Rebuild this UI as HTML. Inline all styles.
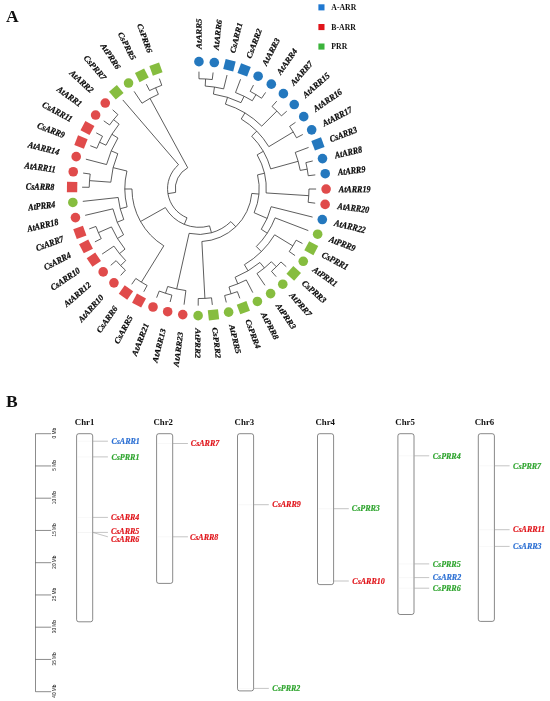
<!DOCTYPE html>
<html><head><meta charset="utf-8"><title>Figure</title>
<style>html,body{margin:0;padding:0;background:#fff}svg{display:block}</style></head>
<body><svg width="550" height="701" viewBox="0 0 550 701">
<rect width="550" height="701" fill="#fff"/>
<path d="M175.60 192.41A23.80 23.80 0 0 1 187.73 167.74M175.60 192.41L167.94 193.63M187.01 217.80A31.56 31.56 0 0 1 178.52 164.72M187.01 217.80L184.28 224.38M209.54 225.89A38.68 38.68 0 0 1 165.36 207.57M209.54 225.89L211.46 232.75M230.87 221.64A45.80 45.80 0 0 1 189.11 233.35M230.87 221.64L235.81 226.77M251.80 193.43A52.92 52.92 0 0 1 201.89 241.50M251.80 193.43L258.89 194.07M257.54 174.88A60.04 60.04 0 0 1 254.11 212.71M257.54 174.88L264.47 173.24M257.15 154.88A67.16 67.16 0 0 1 266.12 192.94M257.15 154.88L263.31 151.30M251.68 136.18A74.28 74.28 0 0 1 270.70 168.88M251.68 136.18L256.72 131.15M241.24 119.00A81.40 81.40 0 0 1 268.83 146.66M241.24 119.00L244.92 112.91M225.41 104.13A88.52 88.52 0 0 1 261.76 126.12M225.41 104.13L227.52 97.33M213.42 94.09A95.64 95.64 0 0 1 240.98 102.66M213.42 94.09L214.48 87.05M205.20 86.07A102.76 102.76 0 0 1 223.64 88.86M205.20 86.07L205.62 78.96M198.97 78.77A109.88 109.88 0 0 1 212.25 79.56M198.97 78.77L198.96 71.65M212.25 79.56L213.10 72.49M223.64 88.86L227.04 75.04M240.98 102.66L244.09 96.26M235.52 92.56A102.76 102.76 0 0 1 252.29 100.73M235.52 92.56L240.57 79.25M252.29 100.73L255.98 94.64M250.18 91.36A109.88 109.88 0 0 1 261.57 98.25M250.18 91.36L253.49 85.06M261.57 98.25L265.61 92.40M261.76 126.12L276.88 111.03M272.04 106.47A109.88 109.88 0 0 1 281.43 115.89M272.04 106.47L276.76 101.14M281.43 115.89L286.77 111.17M268.83 146.66L293.23 131.97M289.63 126.37A109.88 109.88 0 0 1 296.49 137.77M289.63 126.37L295.49 122.34M296.49 137.77L302.80 134.48M270.70 168.88L298.15 161.30M295.26 152.43A102.76 102.76 0 0 1 300.23 170.41M295.26 152.43L308.59 147.41M300.23 170.41L307.23 169.14M305.86 162.63A109.88 109.88 0 0 1 308.22 175.73M305.86 162.63L312.77 160.95M308.22 175.73L315.29 174.89M266.12 192.94L308.76 195.67M308.98 189.01A109.88 109.88 0 0 1 308.13 202.29M308.98 189.01L316.10 189.04M308.13 202.29L315.19 203.18M254.11 212.71L267.16 218.41M271.15 206.71A74.28 74.28 0 0 1 261.28 229.29M271.15 206.71L312.59 217.10M261.28 229.29L267.24 233.18M275.08 217.85A81.40 81.40 0 0 1 256.34 246.53M275.08 217.85L308.32 230.61M256.34 246.53L261.34 251.59M274.63 234.81A88.52 88.52 0 0 1 244.42 264.69M274.63 234.81L292.86 245.95M296.15 240.17A109.88 109.88 0 0 1 289.21 251.52M296.15 240.17L302.44 243.51M289.21 251.52L295.05 255.60M244.42 264.69L248.07 270.80M259.90 262.48A95.64 95.64 0 0 1 235.11 277.25M259.90 262.48L264.43 267.97M271.36 261.72A102.76 102.76 0 0 1 256.96 273.57M271.36 261.72L276.36 266.78M280.95 261.96A109.88 109.88 0 0 1 271.49 271.31M280.95 261.96L286.26 266.71M271.49 271.31L276.18 276.67M256.96 273.57L264.98 285.34M235.11 277.25L237.79 283.85M246.27 279.94A102.76 102.76 0 0 1 228.99 286.97M246.27 279.94L252.81 292.60M228.99 286.97L231.06 293.78M237.37 291.65A109.88 109.88 0 0 1 224.64 295.52M237.37 291.65L239.85 298.33M224.64 295.52L226.29 302.45M201.89 241.50L204.90 298.38M211.53 297.82A109.88 109.88 0 0 1 198.24 298.53M211.53 297.82L212.33 304.90M198.24 298.53L198.19 305.65M189.11 233.35L176.69 288.94M185.88 290.56A102.76 102.76 0 0 1 167.68 286.49M185.88 290.56L184.05 304.68M167.68 286.49L165.50 293.27M171.90 295.11A109.88 109.88 0 0 1 159.23 291.04M171.90 295.11L170.13 302.01M159.23 291.04L156.64 297.67M165.36 207.57L140.53 221.51M163.82 245.80A67.16 67.16 0 0 1 131.94 188.97M163.82 245.80L141.38 282.15M147.14 285.47A109.88 109.88 0 0 1 135.82 278.48M147.14 285.47L143.78 291.74M135.82 278.48L131.72 284.30M131.94 188.97L124.82 189.00M127.11 206.95A74.28 74.28 0 0 1 126.94 171.03M127.11 206.95L120.21 208.71M123.78 219.53A81.40 81.40 0 0 1 118.18 197.49M123.78 219.53L117.20 222.23M123.55 234.78A88.52 88.52 0 0 1 112.91 208.83M123.55 234.78L117.47 238.49M125.00 249.12A95.64 95.64 0 0 1 111.45 226.93M125.00 249.12L119.48 253.62M125.71 260.58A102.76 102.76 0 0 1 113.92 246.12M125.71 260.58L120.62 265.56M125.42 270.17A109.88 109.88 0 0 1 116.11 260.67M125.42 270.17L120.65 275.45M116.11 260.67L110.73 265.33M113.92 246.12L102.11 254.09M111.45 226.93L98.41 232.63M101.25 238.65A109.88 109.88 0 0 1 95.93 226.45M101.25 238.65L94.91 241.89M95.93 226.45L89.24 228.90M112.91 208.83L85.18 215.33M118.18 197.49L82.79 201.36M126.94 171.03L113.11 167.65M110.82 182.20A88.52 88.52 0 0 1 117.78 153.68M110.82 182.20L89.51 180.64M89.23 187.29A109.88 109.88 0 0 1 90.20 174.02M89.23 187.29L82.11 187.21M90.20 174.02L83.14 173.07M117.78 153.68L111.24 150.86M106.55 164.55A95.64 95.64 0 0 1 117.95 138.04M106.55 164.55L85.87 159.17M117.95 138.04L111.91 134.27M105.97 145.21A102.76 102.76 0 0 1 119.12 124.13M105.97 145.21L99.52 142.20M96.89 148.31A109.88 109.88 0 0 1 102.52 136.26M96.89 148.31L90.27 145.70M102.52 136.26L96.26 132.86M119.12 124.13L113.58 119.66M109.56 124.96A109.88 109.88 0 0 1 117.91 114.61M109.56 124.96L103.76 120.84M117.91 114.61L112.65 109.81M178.52 164.72L122.82 99.94M187.73 167.74L150.00 98.38M142.01 103.21A102.76 102.76 0 0 1 158.40 94.29M142.01 103.21L134.10 91.37M158.40 94.29L155.58 87.76M149.55 90.58A109.88 109.88 0 0 1 161.77 85.31M149.55 90.58L146.34 84.22M161.77 85.31L159.35 78.61" fill="none" stroke="#2e2e2e" stroke-width="0.78"/>
<g><circle cx="198.94" cy="61.65" r="4.8" fill="#2478BE"/><circle cx="214.30" cy="62.56" r="4.8" fill="#2478BE"/><rect x="-5.15" y="-5.15" width="10.3" height="10.3" fill="#2478BE" transform="translate(229.43 65.32) rotate(13.82)"/><rect x="-5.15" y="-5.15" width="10.3" height="10.3" fill="#2478BE" transform="translate(244.11 69.89) rotate(20.76)"/><circle cx="258.14" cy="76.21" r="4.8" fill="#2478BE"/><circle cx="271.30" cy="84.17" r="4.8" fill="#2478BE"/><circle cx="283.40" cy="93.66" r="4.8" fill="#2478BE"/><circle cx="294.26" cy="104.55" r="4.8" fill="#2478BE"/><circle cx="303.73" cy="116.67" r="4.8" fill="#2478BE"/><circle cx="311.67" cy="129.84" r="4.8" fill="#2478BE"/><rect x="-5.15" y="-5.15" width="10.3" height="10.3" fill="#2478BE" transform="translate(317.95 143.88) rotate(69.36)"/><circle cx="322.49" cy="158.58" r="4.8" fill="#2478BE"/><circle cx="325.22" cy="173.71" r="4.8" fill="#2478BE"/><circle cx="326.10" cy="189.07" r="4.8" fill="#E04B4B"/><circle cx="325.12" cy="204.42" r="4.8" fill="#E04B4B"/><circle cx="322.29" cy="219.54" r="4.8" fill="#2478BE"/><circle cx="317.65" cy="234.20" r="4.8" fill="#86BD3F"/><rect x="-5.15" y="-5.15" width="10.3" height="10.3" fill="#86BD3F" transform="translate(311.27 248.20) rotate(117.96)"/><circle cx="303.25" cy="261.32" r="4.8" fill="#86BD3F"/><rect x="-5.15" y="-5.15" width="10.3" height="10.3" fill="#86BD3F" transform="translate(293.71 273.38) rotate(131.85)"/><circle cx="282.77" cy="284.19" r="4.8" fill="#86BD3F"/><circle cx="270.61" cy="293.61" r="4.8" fill="#86BD3F"/><circle cx="257.40" cy="301.48" r="4.8" fill="#86BD3F"/><rect x="-5.15" y="-5.15" width="10.3" height="10.3" fill="#86BD3F" transform="translate(243.33 307.70) rotate(159.62)"/><circle cx="228.61" cy="312.17" r="4.8" fill="#86BD3F"/><rect x="-5.15" y="-5.15" width="10.3" height="10.3" fill="#86BD3F" transform="translate(213.47 314.83) rotate(173.50)"/><circle cx="198.11" cy="315.65" r="4.8" fill="#86BD3F"/><circle cx="182.76" cy="314.59" r="4.8" fill="#E04B4B"/><circle cx="167.66" cy="311.70" r="4.8" fill="#E04B4B"/><circle cx="153.01" cy="306.99" r="4.8" fill="#E04B4B"/><rect x="-5.15" y="-5.15" width="10.3" height="10.3" fill="#E04B4B" transform="translate(139.05 300.55) rotate(208.22)"/><rect x="-5.15" y="-5.15" width="10.3" height="10.3" fill="#E04B4B" transform="translate(125.96 292.47) rotate(215.16)"/><circle cx="113.95" cy="282.87" r="4.8" fill="#E04B4B"/><circle cx="103.18" cy="271.89" r="4.8" fill="#E04B4B"/><rect x="-5.15" y="-5.15" width="10.3" height="10.3" fill="#E04B4B" transform="translate(93.82 259.68) rotate(235.99)"/><rect x="-5.15" y="-5.15" width="10.3" height="10.3" fill="#E04B4B" transform="translate(86.01 246.44) rotate(242.94)"/><rect x="-5.15" y="-5.15" width="10.3" height="10.3" fill="#E04B4B" transform="translate(79.85 232.34) rotate(249.88)"/><circle cx="75.44" cy="217.61" r="4.8" fill="#E04B4B"/><circle cx="72.85" cy="202.45" r="4.8" fill="#86BD3F"/><rect x="-5.15" y="-5.15" width="10.3" height="10.3" fill="#E04B4B" transform="translate(72.11 187.08) rotate(270.71)"/><circle cx="73.23" cy="171.74" r="4.8" fill="#E04B4B"/><circle cx="76.20" cy="156.65" r="4.8" fill="#E04B4B"/><rect x="-5.15" y="-5.15" width="10.3" height="10.3" fill="#E04B4B" transform="translate(80.97 142.03) rotate(291.54)"/><rect x="-5.15" y="-5.15" width="10.3" height="10.3" fill="#E04B4B" transform="translate(87.47 128.09) rotate(298.48)"/><circle cx="95.61" cy="115.04" r="4.8" fill="#E04B4B"/><circle cx="105.26" cy="103.07" r="4.8" fill="#E04B4B"/><rect x="-5.15" y="-5.15" width="10.3" height="10.3" fill="#86BD3F" transform="translate(116.30 92.36) rotate(319.31)"/><circle cx="128.54" cy="83.05" r="4.8" fill="#86BD3F"/><rect x="-5.15" y="-5.15" width="10.3" height="10.3" fill="#86BD3F" transform="translate(141.83 75.30) rotate(333.19)"/><rect x="-5.15" y="-5.15" width="10.3" height="10.3" fill="#86BD3F" transform="translate(155.95 69.21) rotate(340.14)"/></g>
<g font-family="'Liberation Serif',serif" font-weight="bold" font-style="italic" font-size="8.5" fill="#0a0a0a" stroke="#0a0a0a" stroke-width="0.22"><text transform="translate(198.93 48.95) rotate(-90.07) scale(1.040 0.920)" dy="0.33em">AtARR5</text><text transform="translate(215.82 49.95) rotate(-83.13) scale(1.039 0.923)" dy="0.33em">AtARR6</text><text transform="translate(232.46 52.99) rotate(-76.18) scale(1.035 0.931)" dy="0.33em">CsARR1</text><text transform="translate(248.61 58.02) rotate(-69.24) scale(1.028 0.944)" dy="0.33em">CsARR2</text><text transform="translate(264.04 64.96) rotate(-62.30) scale(1.020 0.962)" dy="0.33em">AtARR3</text><text transform="translate(278.52 73.72) rotate(-55.36) scale(1.010 0.982)" dy="0.33em">AtARR4</text><text transform="translate(291.83 84.16) rotate(-48.41) scale(0.999 1.003)" dy="0.33em">AtARR7</text><text transform="translate(303.78 96.14) rotate(-41.47) scale(0.987 1.025)" dy="0.33em">AtARR15</text><text transform="translate(314.19 109.47) rotate(-34.53) scale(0.976 1.046)" dy="0.33em">AtARR16</text><text transform="translate(322.92 123.96) rotate(-27.58) scale(0.965 1.064)" dy="0.33em">AtARR17</text><text transform="translate(329.83 139.41) rotate(-20.64) scale(0.956 1.079)" dy="0.33em">CsARR3</text><text transform="translate(334.83 155.57) rotate(-13.70) scale(0.950 1.091)" dy="0.33em">AtARR8</text><text transform="translate(337.83 172.22) rotate(-6.75) scale(0.945 1.098)" dy="0.33em">AtARR9</text><text transform="translate(338.80 189.11) rotate(0.19) scale(0.944 1.100)" dy="0.33em">AtARR19</text><text transform="translate(337.72 205.99) rotate(7.13) scale(0.946 1.097)" dy="0.33em">AtARR20</text><text transform="translate(334.61 222.62) rotate(14.08) scale(0.950 1.090)" dy="0.33em">AtARR22</text><text transform="translate(329.51 238.75) rotate(21.02) scale(0.957 1.079)" dy="0.33em">AtPRR9</text><text transform="translate(322.49 254.15) rotate(27.96) scale(0.966 1.063)" dy="0.33em">CsPRR1</text><text transform="translate(313.67 268.59) rotate(34.90) scale(0.976 1.044)" dy="0.33em">AtPRR1</text><text transform="translate(303.17 281.85) rotate(41.85) scale(0.988 1.024)" dy="0.33em">CsPRR3</text><text transform="translate(291.14 293.75) rotate(48.79) scale(0.999 1.002)" dy="0.33em">AtPRR7</text><text transform="translate(277.76 304.10) rotate(55.73) scale(1.011 0.981)" dy="0.33em">AtPRR3</text><text transform="translate(263.23 312.76) rotate(62.68) scale(1.021 0.961)" dy="0.33em">AtPRR8</text><text transform="translate(247.75 319.60) rotate(69.62) scale(1.029 0.944)" dy="0.33em">CsPRR4</text><text transform="translate(231.57 324.53) rotate(76.56) scale(1.035 0.931)" dy="0.33em">AtPRR5</text><text transform="translate(214.90 327.45) rotate(83.50) scale(1.039 0.923)" dy="0.33em">CsPRR2</text><text transform="translate(198.01 328.35) rotate(90.45) scale(1.040 0.920)" dy="0.33em">AtPRR2</text><text transform="translate(180.49 332.15) rotate(277.39) scale(1.038 0.923)" dy="0.33em" text-anchor="end">AtARR23</text><text transform="translate(163.28 328.85) rotate(284.33) scale(1.034 0.932)" dy="0.33em" text-anchor="end">AtARR13</text><text transform="translate(146.59 323.49) rotate(291.28) scale(1.028 0.946)" dy="0.33em" text-anchor="end">AtARR21</text><text transform="translate(130.68 316.15) rotate(298.22) scale(1.019 0.963)" dy="0.33em" text-anchor="end">CsARR5</text><text transform="translate(115.77 306.94) rotate(305.16) scale(1.009 0.983)" dy="0.33em" text-anchor="end">CsARR6</text><text transform="translate(102.08 296.00) rotate(312.11) scale(0.998 1.005)" dy="0.33em" text-anchor="end">AtARR10</text><text transform="translate(89.81 283.49) rotate(319.05) scale(0.986 1.027)" dy="0.33em" text-anchor="end">AtARR12</text><text transform="translate(79.15 269.58) rotate(325.99) scale(0.975 1.047)" dy="0.33em" text-anchor="end">CsARR10</text><text transform="translate(70.25 254.49) rotate(332.94) scale(0.965 1.065)" dy="0.33em" text-anchor="end">CsARR4</text><text transform="translate(63.23 238.43) rotate(339.88) scale(0.956 1.080)" dy="0.33em" text-anchor="end">CsARR7</text><text transform="translate(58.21 221.64) rotate(346.82) scale(0.949 1.091)" dy="0.33em" text-anchor="end">AtARR18</text><text transform="translate(55.26 204.37) rotate(353.76) scale(0.945 1.098)" dy="0.33em" text-anchor="end">AtPRR4</text><text transform="translate(54.41 186.86) rotate(360.71) scale(0.944 1.100)" dy="0.33em" text-anchor="end">CsARR8</text><text transform="translate(55.69 169.39) rotate(367.65) scale(0.946 1.097)" dy="0.33em" text-anchor="end">AtARR11</text><text transform="translate(59.07 152.19) rotate(374.59) scale(0.950 1.089)" dy="0.33em" text-anchor="end">AtARR14</text><text transform="translate(64.50 135.53) rotate(381.54) scale(0.957 1.077)" dy="0.33em" text-anchor="end">CsARR9</text><text transform="translate(71.91 119.65) rotate(388.48) scale(0.967 1.062)" dy="0.33em" text-anchor="end">CsARR11</text><text transform="translate(81.18 104.78) rotate(395.42) scale(0.977 1.043)" dy="0.33em" text-anchor="end">AtARR1</text><text transform="translate(92.19 91.14) rotate(402.37) scale(0.989 1.022)" dy="0.33em" text-anchor="end">AtARR2</text><text transform="translate(104.76 78.93) rotate(409.31) scale(1.000 1.000)" dy="0.33em" text-anchor="end">CsPRR7</text><text transform="translate(118.71 68.33) rotate(416.25) scale(1.011 0.979)" dy="0.33em" text-anchor="end">AtPRR6</text><text transform="translate(133.84 59.50) rotate(423.19) scale(1.021 0.959)" dy="0.33em" text-anchor="end">CsPRR5</text><text transform="translate(149.93 52.56) rotate(430.14) scale(1.029 0.943)" dy="0.33em" text-anchor="end">CsPRR6</text></g>
<g font-family="'Liberation Serif',serif" font-weight="bold" font-size="7.75" fill="#111"><rect x="318.4" y="4.3" width="6.1" height="6.1" fill="#1F78D1"/><text x="331.3" y="10.2" >A-ARR</text><rect x="318.4" y="24.0" width="6.1" height="6.1" fill="#E0141A"/><text x="331.3" y="30" >B-ARR</text><rect x="318.4" y="43.5" width="6.1" height="6.1" fill="#3BB33B"/><text x="331.3" y="49.3" >PRR</text></g>
<text x="6" y="21.8" font-family="'Liberation Serif',serif" font-weight="bold" font-size="17.5" fill="#111">A</text>
<text x="6" y="407.3" font-family="'Liberation Serif',serif" font-weight="bold" font-size="17.5" fill="#111">B</text>
<path d="M35.5 433.7V691.70M35.5 433.70H51.2M35.5 465.95H51.2M35.5 498.20H51.2M35.5 530.45H51.2M35.5 562.70H51.2M35.5 594.95H51.2M35.5 627.20H51.2M35.5 659.45H51.2M35.5 691.70H51.2" stroke="#2c2c2c" stroke-width="0.55" fill="none"/>
<text transform="translate(56.4 433.20) rotate(-90) scale(1 0.96)" text-anchor="middle" font-family="'Liberation Sans',sans-serif" font-size="4.7" fill="#111">0 Mb</text>
<text transform="translate(56.4 465.45) rotate(-90) scale(1 0.96)" text-anchor="middle" font-family="'Liberation Sans',sans-serif" font-size="4.7" fill="#111">5 Mb</text>
<text transform="translate(56.4 497.70) rotate(-90) scale(1 0.96)" text-anchor="middle" font-family="'Liberation Sans',sans-serif" font-size="4.7" fill="#111">10 Mb</text>
<text transform="translate(56.4 529.95) rotate(-90) scale(1 0.96)" text-anchor="middle" font-family="'Liberation Sans',sans-serif" font-size="4.7" fill="#111">15 Mb</text>
<text transform="translate(56.4 562.20) rotate(-90) scale(1 0.96)" text-anchor="middle" font-family="'Liberation Sans',sans-serif" font-size="4.7" fill="#111">20 Mb</text>
<text transform="translate(56.4 594.45) rotate(-90) scale(1 0.96)" text-anchor="middle" font-family="'Liberation Sans',sans-serif" font-size="4.7" fill="#111">25 Mb</text>
<text transform="translate(56.4 626.70) rotate(-90) scale(1 0.96)" text-anchor="middle" font-family="'Liberation Sans',sans-serif" font-size="4.7" fill="#111">30 Mb</text>
<text transform="translate(56.4 658.95) rotate(-90) scale(1 0.96)" text-anchor="middle" font-family="'Liberation Sans',sans-serif" font-size="4.7" fill="#111">35 Mb</text>
<text transform="translate(56.4 691.20) rotate(-90) scale(1 0.96)" text-anchor="middle" font-family="'Liberation Sans',sans-serif" font-size="4.7" fill="#111">40 Mb</text>
<rect x="76.6" y="433.7" width="16.1" height="188.1" rx="2.2" ry="2.2" fill="#fff" stroke="#262626" stroke-width="0.55"/>
<text x="84.6" y="424.7" text-anchor="middle" font-family="'Liberation Serif',serif" font-weight="bold" font-size="8.8" fill="#111">Chr1</text>
<path d="M77.6 441.2H91.69999999999999" stroke="#f1f1f1" stroke-width="0.5"/>
<path d="M93.0 441.2L107.9 441.2" stroke="#9c9c9c" stroke-width="0.6" fill="none"/>
<text x="111.4" y="443.9" font-family="'Liberation Serif',serif" font-weight="bold" font-style="italic" font-size="8" fill="#2B6FD3" stroke="#2B6FD3" stroke-width="0.18">CsARR1</text>
<path d="M77.6 456.9H91.69999999999999" stroke="#f1f1f1" stroke-width="0.5"/>
<path d="M93.0 456.9L107.9 456.9" stroke="#9c9c9c" stroke-width="0.6" fill="none"/>
<text x="111.4" y="459.6" font-family="'Liberation Serif',serif" font-weight="bold" font-style="italic" font-size="8" fill="#2FA52F" stroke="#2FA52F" stroke-width="0.18">CsPRR1</text>
<path d="M77.6 517.4H91.69999999999999" stroke="#f1f1f1" stroke-width="0.5"/>
<path d="M93.0 517.4L107.9 517.4" stroke="#9c9c9c" stroke-width="0.6" fill="none"/>
<text x="110.9" y="520.1" font-family="'Liberation Serif',serif" font-weight="bold" font-style="italic" font-size="8" fill="#E0141A" stroke="#E0141A" stroke-width="0.18">CsARR4</text>
<path d="M77.6 532.4H91.69999999999999" stroke="#f1f1f1" stroke-width="0.5"/>
<path d="M93.0 532.4L107.9 532.4" stroke="#9c9c9c" stroke-width="0.6" fill="none"/>
<text x="110.9" y="534.1" font-family="'Liberation Serif',serif" font-weight="bold" font-style="italic" font-size="8" fill="#E0141A" stroke="#E0141A" stroke-width="0.18">CsARR5</text>
<path d="M77.6 532.5H91.69999999999999" stroke="#f1f1f1" stroke-width="0.5"/>
<path d="M93.0 532.5L107.9 536.8" stroke="#9c9c9c" stroke-width="0.6" fill="none"/>
<text x="110.9" y="541.6" font-family="'Liberation Serif',serif" font-weight="bold" font-style="italic" font-size="8" fill="#E0141A" stroke="#E0141A" stroke-width="0.18">CsARR6</text>
<rect x="156.6" y="433.7" width="16.1" height="149.7" rx="2.2" ry="2.2" fill="#fff" stroke="#262626" stroke-width="0.55"/>
<text x="163.2" y="424.7" text-anchor="middle" font-family="'Liberation Serif',serif" font-weight="bold" font-size="8.8" fill="#111">Chr2</text>
<path d="M157.6 443.5H171.7" stroke="#f1f1f1" stroke-width="0.5"/>
<path d="M173.0 443.5L187.9 443.5" stroke="#9c9c9c" stroke-width="0.6" fill="none"/>
<text x="190.8" y="446.2" font-family="'Liberation Serif',serif" font-weight="bold" font-style="italic" font-size="8" fill="#E0141A" stroke="#E0141A" stroke-width="0.18">CsARR7</text>
<path d="M157.6 536.8H171.7" stroke="#f1f1f1" stroke-width="0.5"/>
<path d="M173.0 536.8L187.9 536.8" stroke="#9c9c9c" stroke-width="0.6" fill="none"/>
<text x="189.9" y="539.5" font-family="'Liberation Serif',serif" font-weight="bold" font-style="italic" font-size="8" fill="#E0141A" stroke="#E0141A" stroke-width="0.18">CsARR8</text>
<rect x="237.5" y="433.7" width="16.1" height="257.2" rx="2.2" ry="2.2" fill="#fff" stroke="#262626" stroke-width="0.55"/>
<text x="244.4" y="424.7" text-anchor="middle" font-family="'Liberation Serif',serif" font-weight="bold" font-size="8.8" fill="#111">Chr3</text>
<path d="M238.5 504.7H252.6" stroke="#f1f1f1" stroke-width="0.5"/>
<path d="M253.9 504.7L268.8 504.7" stroke="#9c9c9c" stroke-width="0.6" fill="none"/>
<text x="272.3" y="507.4" font-family="'Liberation Serif',serif" font-weight="bold" font-style="italic" font-size="8" fill="#E0141A" stroke="#E0141A" stroke-width="0.18">CsARR9</text>
<path d="M238.5 688.4H252.6" stroke="#f1f1f1" stroke-width="0.5"/>
<path d="M253.9 688.4L268.8 688.4" stroke="#9c9c9c" stroke-width="0.6" fill="none"/>
<text x="272.3" y="691.1" font-family="'Liberation Serif',serif" font-weight="bold" font-style="italic" font-size="8" fill="#2FA52F" stroke="#2FA52F" stroke-width="0.18">CsPRR2</text>
<rect x="317.5" y="433.7" width="16.1" height="150.9" rx="2.2" ry="2.2" fill="#fff" stroke="#262626" stroke-width="0.55"/>
<text x="325.2" y="424.7" text-anchor="middle" font-family="'Liberation Serif',serif" font-weight="bold" font-size="8.8" fill="#111">Chr4</text>
<path d="M318.5 508.7H332.6" stroke="#f1f1f1" stroke-width="0.5"/>
<path d="M333.9 508.7L348.8 508.7" stroke="#9c9c9c" stroke-width="0.6" fill="none"/>
<text x="351.8" y="511.4" font-family="'Liberation Serif',serif" font-weight="bold" font-style="italic" font-size="8" fill="#2FA52F" stroke="#2FA52F" stroke-width="0.18">CsPRR3</text>
<path d="M318.5 581.0H332.6" stroke="#f1f1f1" stroke-width="0.5"/>
<path d="M333.9 581.0L348.8 581.0" stroke="#9c9c9c" stroke-width="0.6" fill="none"/>
<text x="352.3" y="583.7" font-family="'Liberation Serif',serif" font-weight="bold" font-style="italic" font-size="8" fill="#E0141A" stroke="#E0141A" stroke-width="0.18">CsARR10</text>
<rect x="397.9" y="433.7" width="16.1" height="180.8" rx="2.2" ry="2.2" fill="#fff" stroke="#262626" stroke-width="0.55"/>
<text x="405.1" y="424.7" text-anchor="middle" font-family="'Liberation Serif',serif" font-weight="bold" font-size="8.8" fill="#111">Chr5</text>
<path d="M398.9 455.8H413.0" stroke="#f1f1f1" stroke-width="0.5"/>
<path d="M414.3 455.8L429.2 455.8" stroke="#9c9c9c" stroke-width="0.6" fill="none"/>
<text x="432.7" y="458.5" font-family="'Liberation Serif',serif" font-weight="bold" font-style="italic" font-size="8" fill="#2FA52F" stroke="#2FA52F" stroke-width="0.18">CsPRR4</text>
<path d="M398.9 563.9H413.0" stroke="#f1f1f1" stroke-width="0.5"/>
<path d="M414.3 563.9L429.2 563.9" stroke="#9c9c9c" stroke-width="0.6" fill="none"/>
<text x="432.7" y="566.6" font-family="'Liberation Serif',serif" font-weight="bold" font-style="italic" font-size="8" fill="#2FA52F" stroke="#2FA52F" stroke-width="0.18">CsPRR5</text>
<path d="M398.9 577.6H413.0" stroke="#f1f1f1" stroke-width="0.5"/>
<path d="M414.3 577.6L429.2 577.6" stroke="#9c9c9c" stroke-width="0.6" fill="none"/>
<text x="432.7" y="580.3" font-family="'Liberation Serif',serif" font-weight="bold" font-style="italic" font-size="8" fill="#2B6FD3" stroke="#2B6FD3" stroke-width="0.18">CsARR2</text>
<path d="M398.9 588.2H413.0" stroke="#f1f1f1" stroke-width="0.5"/>
<path d="M414.3 588.2L429.2 588.2" stroke="#9c9c9c" stroke-width="0.6" fill="none"/>
<text x="432.7" y="590.9" font-family="'Liberation Serif',serif" font-weight="bold" font-style="italic" font-size="8" fill="#2FA52F" stroke="#2FA52F" stroke-width="0.18">CsPRR6</text>
<rect x="478.3" y="433.7" width="16.1" height="187.7" rx="2.2" ry="2.2" fill="#fff" stroke="#262626" stroke-width="0.55"/>
<text x="484.5" y="424.7" text-anchor="middle" font-family="'Liberation Serif',serif" font-weight="bold" font-size="8.8" fill="#111">Chr6</text>
<path d="M479.3 465.8H493.40000000000003" stroke="#f1f1f1" stroke-width="0.5"/>
<path d="M494.7 465.8L509.6 465.8" stroke="#9c9c9c" stroke-width="0.6" fill="none"/>
<text x="513.1" y="468.5" font-family="'Liberation Serif',serif" font-weight="bold" font-style="italic" font-size="8" fill="#2FA52F" stroke="#2FA52F" stroke-width="0.18">CsPRR7</text>
<path d="M479.3 529.7H493.40000000000003" stroke="#f1f1f1" stroke-width="0.5"/>
<path d="M494.7 529.7L509.6 529.7" stroke="#9c9c9c" stroke-width="0.6" fill="none"/>
<text x="513.1" y="532.4" font-family="'Liberation Serif',serif" font-weight="bold" font-style="italic" font-size="8" fill="#E0141A" stroke="#E0141A" stroke-width="0.18">CsARR11</text>
<path d="M479.3 546.4H493.40000000000003" stroke="#f1f1f1" stroke-width="0.5"/>
<path d="M494.7 546.4L509.6 546.4" stroke="#9c9c9c" stroke-width="0.6" fill="none"/>
<text x="513.1" y="549.1" font-family="'Liberation Serif',serif" font-weight="bold" font-style="italic" font-size="8" fill="#2B6FD3" stroke="#2B6FD3" stroke-width="0.18">CsARR3</text>
</svg></body></html>
